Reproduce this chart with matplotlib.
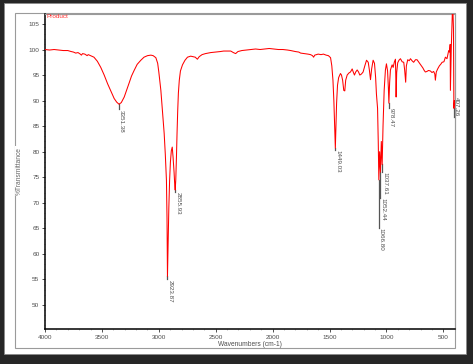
import matplotlib
matplotlib.use("Agg")
import matplotlib.pyplot as plt
from matplotlib.patches import Rectangle
from matplotlib.ticker import MultipleLocator

plt.rcParams['font.family'] = ['Liberation Sans', 'DejaVu Sans']

# spectrum (cm-1, %T)
wavenumbers = [
    4000, 3960, 3920, 3880, 3840, 3800, 3770, 3750, 3730, 3710, 3690, 3680, 3670,
    3650, 3630, 3620, 3600, 3570, 3540, 3510, 3480, 3450, 3420, 3392, 3370, 3350,
    3330, 3304, 3280, 3260, 3240, 3217, 3190, 3158, 3130, 3099, 3070, 3050, 3026,
    3010, 3000, 2990, 2982, 2970, 2960, 2953, 2943, 2933, 2928, 2924, 2918, 2912,
    2905, 2898, 2890, 2882, 2875, 2866, 2860, 2856, 2851, 2845, 2840, 2834, 2828,
    2820, 2810, 2792, 2770, 2748, 2720, 2700, 2680, 2661, 2645, 2620, 2590, 2544,
    2500, 2460, 2430, 2400, 2368, 2345, 2325, 2305, 2270, 2230, 2193, 2150, 2110,
    2070, 2030, 1990, 1950, 1910, 1870, 1842, 1800, 1770, 1754, 1720, 1690, 1667,
    1650, 1640, 1630, 1600, 1575, 1553, 1530, 1510, 1491, 1480, 1470, 1462, 1455,
    1449, 1444, 1438, 1430, 1420, 1410, 1404, 1395, 1385, 1375, 1366, 1358, 1345,
    1330, 1316, 1301, 1290, 1281, 1270, 1257, 1245, 1234, 1220, 1205, 1190, 1175,
    1160, 1150, 1140, 1130, 1117, 1105, 1095, 1088, 1078, 1072, 1066.8, 1060,
    1052.4, 1045, 1037.6, 1030, 1020, 1009, 1000, 990, 983, 978.5, 972, 965, 950,
    941, 930, 921, 918, 915, 910, 901, 890, 877, 862, 848, 840, 831, 825, 813,
    800, 789, 775, 761, 745, 731, 715, 696, 680, 668, 658, 645, 630, 614, 600,
    585, 575, 570, 562, 550, 535, 520, 511, 495, 482, 468, 453, 445, 440, 438,
    434, 430, 425, 420, 415, 411, 407.3, 403,
]
transmittance = [
    100.0, 99.9, 100.0, 99.9, 99.8, 99.8, 99.6, 99.5, 99.3, 99.4, 99.1, 98.9, 99.2,
    99.1, 98.8, 99.0, 98.8, 98.5, 97.7, 96.5, 95.0, 93.3, 91.8, 90.4, 89.7, 89.3,
    89.6, 90.7, 92.2, 93.5, 94.8, 95.9, 97.1, 97.9, 98.5, 98.8, 98.9, 98.8, 98.4,
    97.3, 95.6, 93.6, 92.0, 88.5, 85.5, 83.6, 79.5, 74.4, 67.0, 55.6, 62.0, 69.0,
    74.5, 78.0, 80.2, 80.9, 79.0, 76.0, 73.5, 72.5, 74.5, 79.0, 83.5, 88.0, 91.5,
    94.0, 95.8, 97.0, 97.9, 98.5, 98.7, 98.6, 98.5, 98.1, 98.6, 99.0, 99.2, 99.4,
    99.5, 99.6, 99.7, 99.7, 99.7, 99.4, 99.2, 99.6, 99.8, 99.9, 100.0, 100.1, 100.0,
    100.1, 100.2, 100.1, 100.0, 100.0, 99.9, 99.8, 99.6, 99.5, 99.3, 99.2, 99.1, 99.0,
    98.8, 98.5, 98.9, 99.1, 99.0, 99.1, 98.9, 98.8, 98.4, 96.8, 94.0, 90.0, 85.0,
    80.7, 84.5, 89.5, 93.0, 94.5, 95.0, 95.3, 95.0, 94.0, 92.0, 91.9, 94.0, 95.0,
    95.4, 95.6, 96.2, 95.5, 95.0, 95.6, 96.0, 95.6, 95.0, 95.2, 95.6, 96.8, 97.9,
    97.5, 96.0, 94.1, 96.2, 97.9, 97.3, 94.5, 91.3, 88.5, 82.0, 74.5, 80.0,
    76.0, 82.0, 77.5, 85.0, 92.0, 96.0, 97.2, 95.8, 92.5, 89.5, 93.5, 96.0, 97.0,
    96.5, 97.6, 98.1, 95.0, 90.7, 95.5, 97.4, 97.9, 98.2, 97.6, 97.5, 96.0, 93.6, 96.8, 98.0,
    97.8, 98.2, 97.8, 97.5, 98.0, 98.0, 97.5, 96.9, 96.4, 95.9, 95.6, 95.7, 95.9, 95.8, 95.5,
    95.7, 95.2, 94.0, 95.6, 96.2, 96.8, 97.2, 97.5, 97.6, 98.5, 98.2, 99.8, 99.5, 101.0, 92.0,
    96.0, 100.5, 104.0, 108.0, 107.0, 104.0, 88.5, 90.0,
]

# labelled peaks
peak_wn = [3351.38, 2923.87, 2855.93, 1449.03, 1066.80, 1052.44, 1037.61, 978.47, 407.26]
peak_t = [89.3, 55.6, 72.5, 80.7, 74.5, 76.0, 77.5, 89.5, 88.5]
peak_labels = ['3351.38', '2923.87', '2855.93', '1449.03', '1066.80',
               '1052.44', '1037.61', '978.47', '407.26']

x_ticks = [4000, 3500, 3000, 2500, 2000, 1500, 1000, 500]
y_ticks = [50, 55, 60, 65, 70, 75, 80, 85, 90, 95, 100, 105]

# where each peak label starts and where its marker line stops (in %T)
label_top = [88.1, 54.9, 72.1, 80.3, 65.0, 70.9, 76.0, 88.5, 90.8]
line_end = [88.3, 55.0, 72.2, 80.4, 65.0, 70.9, 76.0, 88.6, 86.8]

W, H = 473, 364
fig = plt.figure(figsize=(W / 100, H / 100), dpi=100, facecolor='#262626')

# white page and grey frame, in pixels of the screenshot
fig.patches.append(Rectangle((4 / W, 1 - 354 / H), 462 / W, 351 / H,
                             transform=fig.transFigure, facecolor='white',
                             edgecolor='#8a8a8a', lw=0.6, zorder=-10))
fig.patches.append(Rectangle((15 / W, 1 - 348 / H), 440 / W, 335 / H,
                             transform=fig.transFigure, fill=False,
                             edgecolor='#9a9a9a', lw=0.8, zorder=-5))

ax = fig.add_axes([45 / W, 1 - 329 / H, 409.5 / W, 315 / H])
ax.set_facecolor('none')
ax.plot(wavenumbers, transmittance, color='#ff0000', lw=0.75, zorder=3)

ax.set_xlim(4000, 402)
ax.set_ylim(45.3, 106.95)
ax.set_xticks(x_ticks)
ax.set_yticks(y_ticks)
ax.xaxis.set_minor_locator(MultipleLocator(100))
ax.yaxis.set_minor_locator(MultipleLocator(1))
ax.tick_params(which='major', length=2.5, width=0.6, color='#333333',
               labelsize=4.6, labelcolor='#4d4d4d', pad=1.5)
ax.tick_params(which='minor', length=1.0, width=0.4, color='#888888')

for side in ['top', 'right']:
    ax.spines[side].set_color('#9a9a9a')
    ax.spines[side].set_linewidth(0.8)
for side in ['left', 'bottom']:
    ax.spines[side].set_color('black')
    ax.spines[side].set_linewidth(1.1)

# peak markers and labels
for wn, t, lab, top, end in zip(peak_wn, peak_t, peak_labels, label_top, line_end):
    ax.plot([wn, wn], [t, end], color='#555555', lw=0.9, zorder=2, clip_on=False)
    ax.text(wn, top, lab, rotation=270, ha='left', va='top',
            fontsize=4.5, color='#4d4d4d')

ax.text(0.004, 0.999, 'Product', transform=ax.transAxes, ha='left', va='top',
        fontsize=4.6, color='#ff3030')

fig.text(250 / W, 1 - 344 / H, 'Wavenumbers (cm-1)', ha='center', va='center',
         fontsize=4.8, color='#4d4d4d')
fig.text(19 / W, 1 - 171 / H, '%Transmittance', rotation=90, ha='center',
         va='center', fontsize=4.8, color='#666666',
         bbox=dict(facecolor='white', edgecolor='none', pad=0.6))

fig.savefig('out.png', dpi=100, facecolor=fig.get_facecolor())
